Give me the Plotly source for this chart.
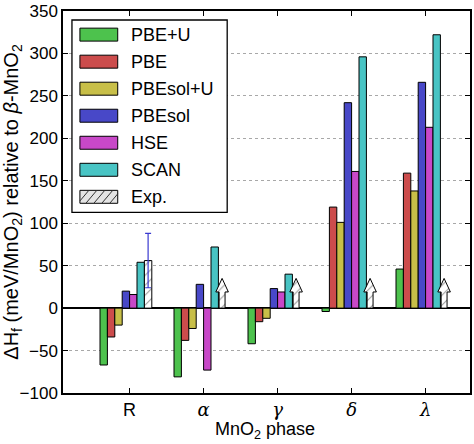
import plotly.graph_objects as go

# ---------------- data ----------------
phases = ["R", "α", "γ", "δ", "λ"]
methods = ["PBE+U", "PBE", "PBEsol+U", "PBEsol", "HSE", "SCAN"]
pbe_u = [-67, -81, -42, -4, 46]
pbe = [-34, -38, -16, 119, 159]
pbesol_u = [-20, -24, -12, 101, 138]
pbesol = [20, 28, 23, 242, 266]
hse = [16, -73, 19, 161, 213]
scan = [54, 72, 40, 296, 322]
exp_vals = [56, None, None, None, None]
exp_err = [32, None, None, None, None]
exp_lower_bound = [False, True, True, True, True]

series = [pbe_u, pbe, pbesol_u, pbesol, hse, scan]
colors = ["#4dc24d", "#cc4c4c", "#c8bf48", "#4848c8", "#c848c8", "#48c4c4"]

# ---------------- layout constants ----------------
W, H = 474, 444
ML, MR, MT, MB = 63, 2, 10, 51
BW = 0.1
FONT = "Liberation Sans, Arial, sans-serif"

fig = go.Figure()
xs = list(range(len(phases)))
for k, (name, vals, col) in enumerate(zip(methods, series, colors)):
    off = -0.35 + BW * k
    fig.add_trace(go.Bar(
        x=[x + off for x in xs], y=vals, width=BW, name=name,
        marker=dict(color=col, line=dict(color="black", width=1)),
        showlegend=False))

# experimental bar with error bar
off_exp = -0.35 + BW * 6
fig.add_trace(go.Bar(
    x=[x + off_exp for x in xs], y=exp_vals, width=BW, name="Exp.",
    marker=dict(color="white", line=dict(color="black", width=1),
                pattern=dict(shape="/", fgcolor="#333333", bgcolor="white",
                             size=7, solidity=0.15)),
    error_y=dict(type="data", array=exp_err, color="#3a3ad0",
                 thickness=1.2, width=3),
    showlegend=False))

# lower-bound arrows for the experimental values
sw, hw, h1, h2 = 0.04, 0.085, 19, 35
ax_, ay_ = [], []
for x, lb in zip(xs, exp_lower_bound):
    if not lb:
        continue
    c = x + off_exp
    ax_ += [c - sw, c + sw, c + sw, c + hw, c, c - hw, c - sw, c - sw, None]
    ay_ += [0, 0, h1, h1, h2, h1, h1, 0, None]
fig.add_trace(go.Scatter(
    x=ax_, y=ay_, mode="lines", fill="toself", fillcolor="white",
    fillpattern=dict(shape="/", fgcolor="#333333", bgcolor="white",
                     size=7, solidity=0.15),
    line=dict(color="black", width=1), showlegend=False, hoverinfo="skip"))

# ---------------- manual legend ----------------
def px_x(p):
    return (p - ML) / (W - ML - MR)

def px_y(p):
    return (H - MB - p) / (H - MT - MB)

shapes = []
annotations = []
shapes.append(dict(type="rect", xref="paper", yref="paper",
                   x0=px_x(72), x1=px_x(228), y0=px_y(212), y1=px_y(19),
                   line=dict(color="black", width=1.3), fillcolor="white",
                   layer="above"))
labels = methods + ["Exp."]
row0, dy = 33.7, 27.1
for i, lab in enumerate(labels):
    cy = row0 + dy * i
    y0, y1 = cy + 6.5, cy - 6.5
    fill = colors[i] if i < len(colors) else "#e4e4e4"
    shapes.append(dict(type="rect", xref="paper", yref="paper",
                       x0=px_x(80), x1=px_x(118), y0=px_y(y0), y1=px_y(y1),
                       line=dict(color="black", width=1), fillcolor=fill,
                       layer="above"))
    if i == len(colors):
        # hatch lines for Exp. swatch
        for sx in [80, 88, 96, 104, 112]:
            xa, xb = sx - 2, sx + 9
            xa_c, xb_c = max(xa, 80), min(xb, 118)
            ya = y0 - (xa_c - xa) * 13 / 11
            yb = y0 - (xb_c - xa) * 13 / 11
            shapes.append(dict(type="line", xref="paper", yref="paper",
                               x0=px_x(xa_c), x1=px_x(xb_c),
                               y0=px_y(ya), y1=px_y(yb),
                               line=dict(color="#333333", width=1),
                               layer="above"))
    annotations.append(dict(xref="paper", yref="paper", x=px_x(129),
                            y=px_y(cy), text=lab, showarrow=False,
                            xanchor="left", yanchor="middle",
                            font=dict(size=18, color="black", family=FONT)))

# x-axis title placed as an annotation for exact placement
annotations.append(dict(xref="paper", yref="paper", x=px_x(266), y=px_y(444),
                        text="MnO<sub>2</sub> phase", showarrow=False,
                        xanchor="center", yanchor="bottom",
                        font=dict(size=18, color="black", family=FONT)))

tick_text = [phases[0]] + [
    '<span style="font-family:DejaVu Serif"><i>%s</i></span>' % p
    for p in phases[1:]]

fig.update_layout(
    width=W, height=H,
    margin=dict(l=ML, r=MR, t=MT, b=MB),
    plot_bgcolor="white", paper_bgcolor="white",
    barmode="overlay",
    font=dict(family=FONT, size=17, color="black"),
    shapes=shapes, annotations=annotations,
    xaxis=dict(range=[-0.9, 4.6], tickvals=xs, ticktext=tick_text,
               ticks="inside", ticklen=5, tickcolor="black",
               showline=True, linecolor="black", linewidth=1.5,
               mirror="ticks", showgrid=False, zeroline=False,
               tickfont=dict(size=18)),
    yaxis=dict(range=[-100, 350], dtick=50, tick0=0,
               ticks="inside", ticklen=5, tickcolor="black",
               showline=True, linecolor="black", linewidth=1.5,
               mirror="ticks", showgrid=True, gridcolor="#a8a8a8",
               griddash="dot", gridwidth=1,
               zeroline=True, zerolinecolor="black", zerolinewidth=1.5,
               tickfont=dict(size=17),
               title=dict(text="ΔH<sub>f</sub> (meV/MnO<sub>2</sub>) relative to <i>β</i>-MnO<sub>2</sub>",
                          standoff=2, font=dict(size=20))),
)

fig.write_html("out.html")
